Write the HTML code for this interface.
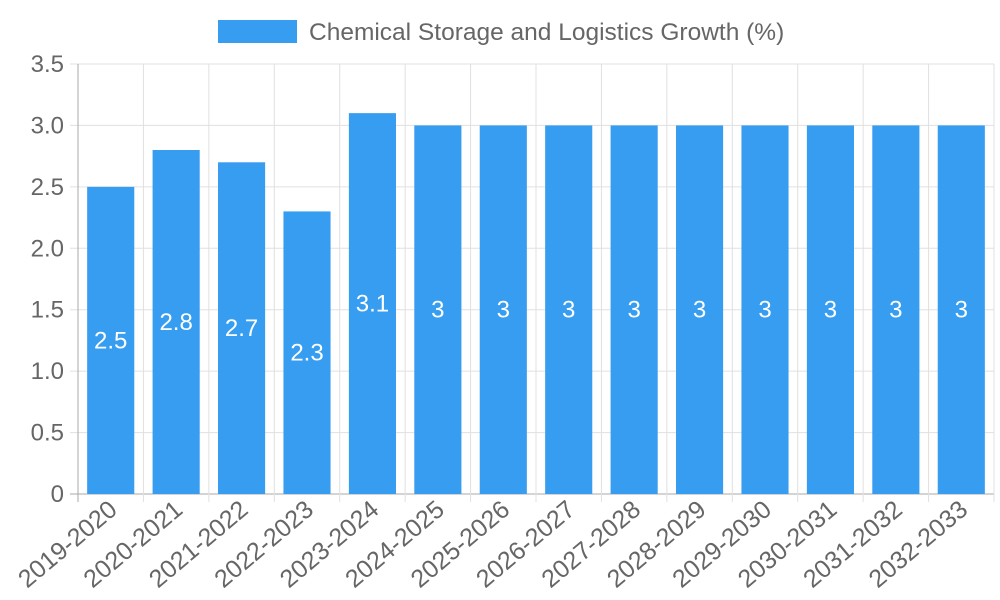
<!DOCTYPE html>
<html><head><meta charset="utf-8"><style>
html,body{margin:0;padding:0;background:#fff;}
svg{display:block;font-family:"Liberation Sans",sans-serif;}
</style></head><body>
<svg id="chart" width="1000" height="600">
<g id="legend">
<rect x="218" y="20" width="79" height="23" fill="#379df0"/>
<text x="309" y="40" font-size="24.5" fill="#666">Chemical Storage and Logistics Growth (%)</text>
</g>
<g id="grid"></g><g id="bars"></g><g id="labels"></g>
</svg>
<script>
const categories=["2019-2020","2020-2021","2021-2022","2022-2023","2023-2024","2024-2025","2025-2026","2026-2027","2027-2028","2028-2029","2029-2030","2030-2031","2031-2032","2032-2033"];
const values=[2.5,2.8,2.7,2.3,3.1,3,3,3,3,3,3,3,3,3];
const yTicks=[0,0.5,1.0,1.5,2.0,2.5,3.0,3.5];
const yTickLabels=["0","0.5","1.0","1.5","2.0","2.5","3.0","3.5"];
const NS="http://www.w3.org/2000/svg";
const L=78,R=994,T=64,B=494,yMax=3.5;
const step=(R-L)/categories.length;
const y=v=>B-(v/yMax)*(B-T);
const x=i=>L+step*i;
function mk(tag,attrs,parent,text){const e=document.createElementNS(NS,tag);for(const k in attrs)e.setAttribute(k,attrs[k]);if(text!==undefined)e.textContent=text;parent.appendChild(e);return e;}
const grid=document.getElementById('grid'),bars=document.getElementById('bars'),labels=document.getElementById('labels');
yTicks.forEach((t,i)=>{
  const l=mk('line',{x1:L-8,x2:R,y1:y(t),y2:y(t),stroke:i===0?'#aaa':'#e0e0e0','stroke-width':1},grid);
  
  
  const tx=mk('text',{x:L-14,y:y(t)+8,'text-anchor':'end','font-size':24,fill:'#666'},grid,yTickLabels[i]);
  
  
});
for(let i=0;i<=categories.length;i++){
  const l=mk('line',{x1:x(i),x2:x(i),y1:T,y2:B+8,stroke:i===0?'#aaa':'#e0e0e0','stroke-width':1},grid);
  
  
}
const bw=step*0.72;
categories.forEach((c,i)=>{
  const cx=x(i)+step/2;
  const r=mk('rect',{x:cx-bw/2,y:y(values[i]),width:bw,height:B-y(values[i]),fill:'#379df0'},bars);
  
  
  const v=mk('text',{x:cx,y:(y(values[i])+B)/2+8,'text-anchor':'middle','font-size':24,fill:'#fff'},labels,String(values[i]));
  
  
  const tl=mk('text',{x:cx+8,y:B+18,'text-anchor':'end','font-size':25,fill:'#666',transform:`rotate(-40 ${cx+8} ${B+18})`},labels,c);
  
  
});
</script>
</body></html>
